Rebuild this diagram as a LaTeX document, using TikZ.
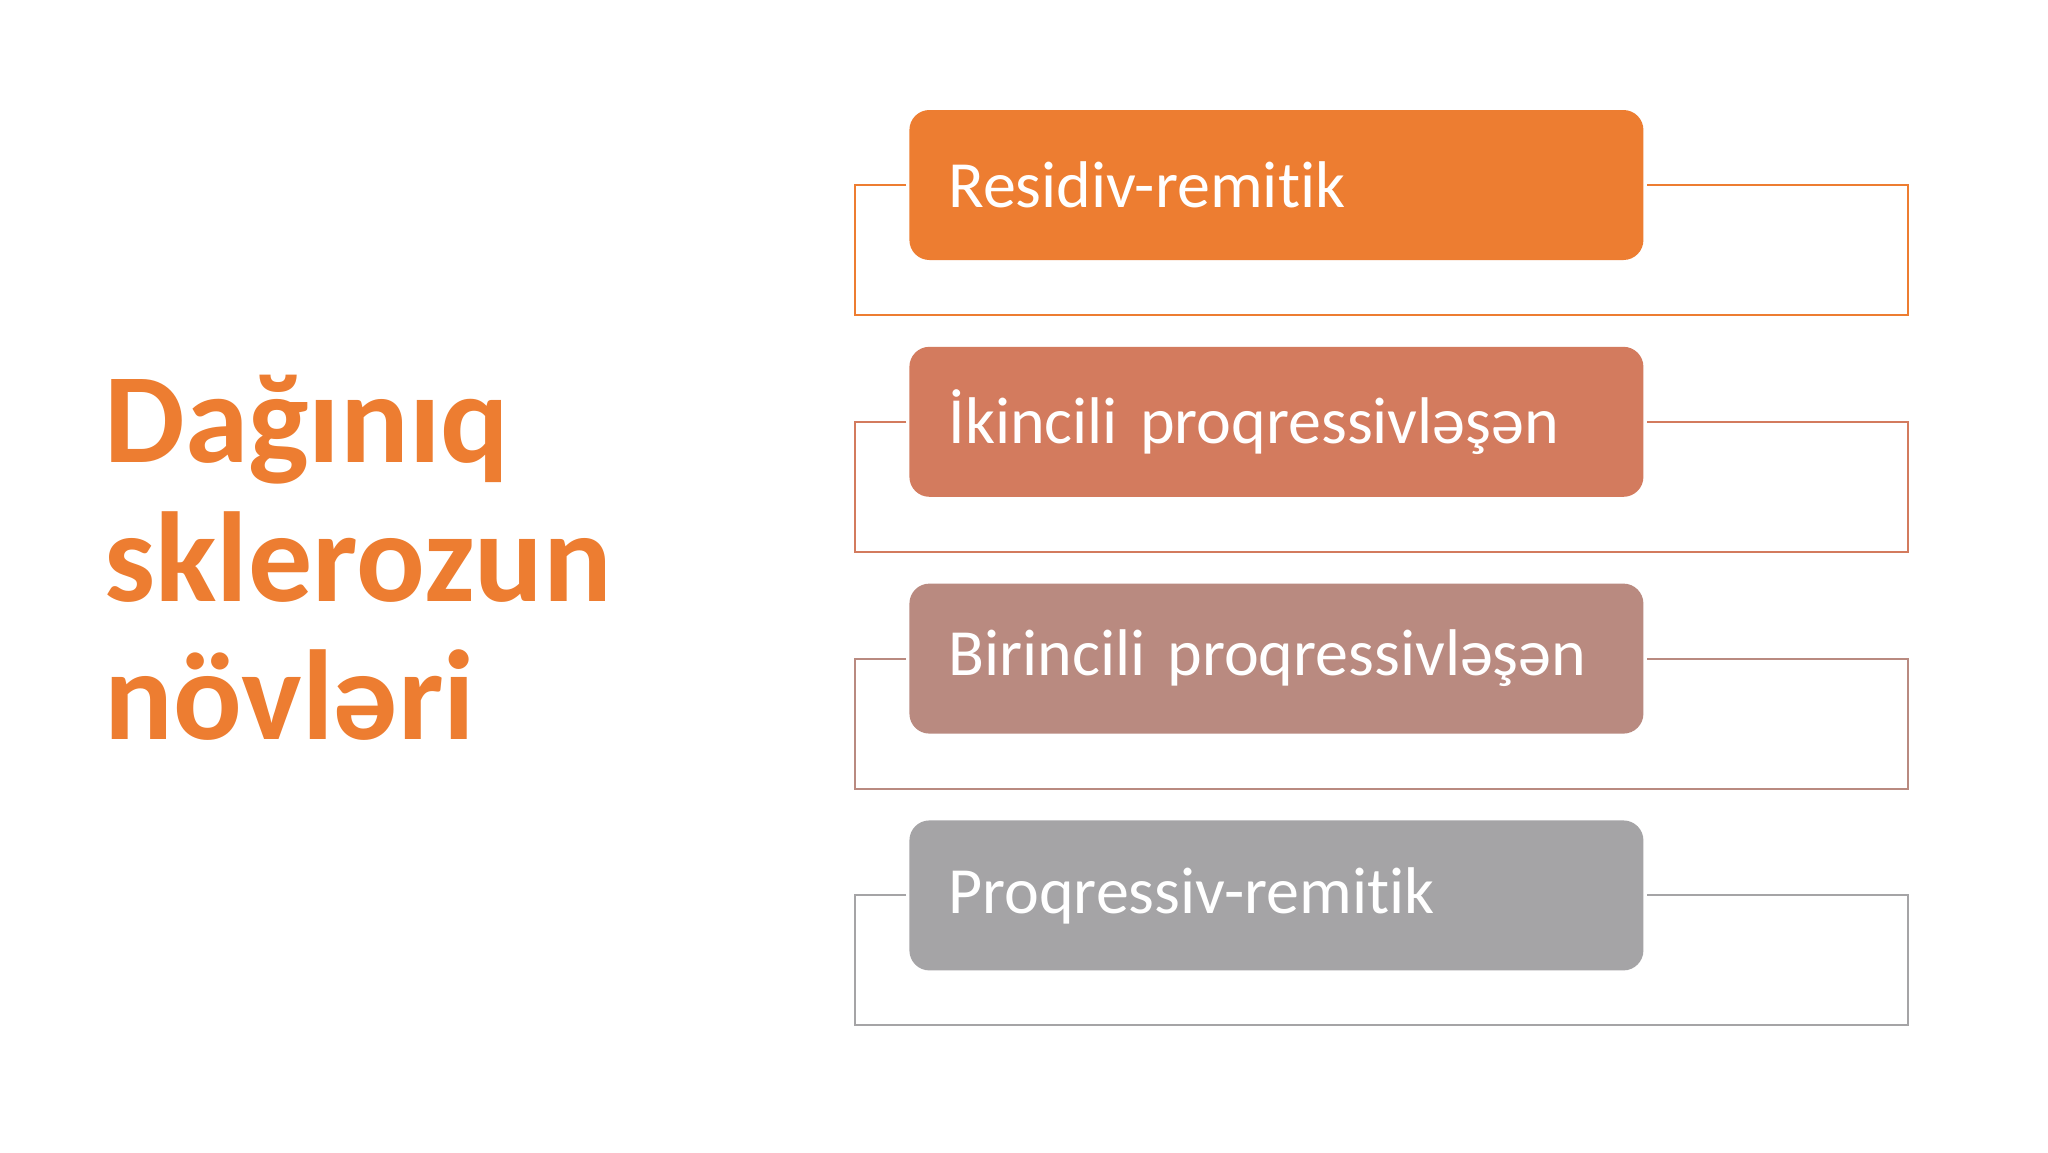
\documentclass[tikz,border=0pt]{standalone}
\usepackage{fontspec}
\setmainfont{Carlito}[Ligatures=NoCommon]
\usepackage{xcolor}
\usetikzlibrary{positioning}
\definecolor{residivcol}{RGB}{237,125,49}
\definecolor{ikincicol}{RGB}{211,123,94}
\definecolor{birincicol}{RGB}{185,138,128}
\definecolor{progrcol}{RGB}{165,164,166}
\tikzset{
  typebox/.style={fill=#1, rounded corners=10pt, anchor=west, minimum height=75pt,
    text width=328pt, inner xsep=19.5pt, align=left, text=white,
    font=\fontsize{33}{38}\selectfont},
  framebox/.style={draw=#1, line width=1pt},
  titleline/.style={anchor=base west, inner sep=0pt, text=residivcol,
    font=\fontsize{64}{72}\selectfont\bfseries}
}

\begin{document}
\begin{tikzpicture}[x=0.5pt,y=-0.5pt]
\useasboundingbox[fill=white] (0,0) rectangle (2048,1152);
%%%%%%%%%%%%%%%%
\node[titleline] (title1) at (104,462) {Dağınıq};
\node[titleline] (title2) at (104,601) {sklerozun};
\node[titleline] (title3) at (104,739) {növləri};
%%%%%%%%%%%%%%%%
\node[typebox=residivcol] (residiv) at (909,185) {Residiv-remitik};
\draw[framebox=residivcol] ([xshift=-1.5pt]residiv.west) -- ++(-25.5pt,0) -- ++(0,-65pt)
  -- ++(526.5pt,0) -- ++(0,65pt) -- ([xshift=1.5pt]residiv.east);
%%%%%%%%%%%%%%%%
\node[typebox=ikincicol, below=43pt of residiv] (ikinci) {İkincili proqressivləşən};
\draw[framebox=ikincicol] ([xshift=-1.5pt]ikinci.west) -- ++(-25.5pt,0) -- ++(0,-65pt)
  -- ++(526.5pt,0) -- ++(0,65pt) -- ([xshift=1.5pt]ikinci.east);
%%%%%%%%%%%%%%%%
\node[typebox=birincicol, below=43pt of ikinci] (birinci) {Birincili proqressivləşən};
\draw[framebox=birincicol] ([xshift=-1.5pt]birinci.west) -- ++(-25.5pt,0) -- ++(0,-65pt)
  -- ++(526.5pt,0) -- ++(0,65pt) -- ([xshift=1.5pt]birinci.east);
%%%%%%%%%%%%%%%%
\node[typebox=progrcol, below=43pt of birinci] (progr) {Proqressiv-remitik};
\draw[framebox=progrcol] ([xshift=-1.5pt]progr.west) -- ++(-25.5pt,0) -- ++(0,-65pt)
  -- ++(526.5pt,0) -- ++(0,65pt) -- ([xshift=1.5pt]progr.east);
\end{tikzpicture}
\end{document}
